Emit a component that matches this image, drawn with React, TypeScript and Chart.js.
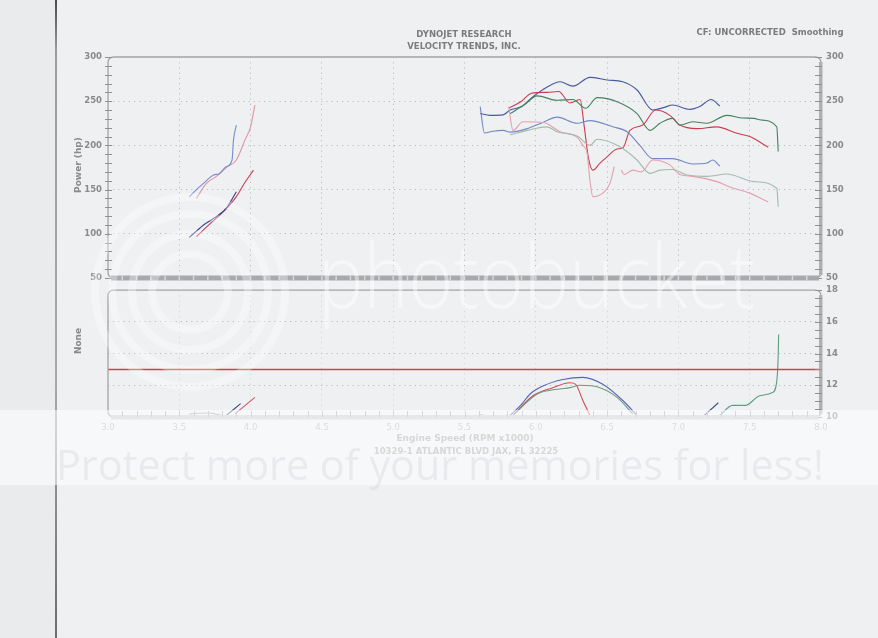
import React, { useEffect, useRef } from "react";
import { Chart, registerables } from "chart.js";
Chart.register(...registerables);

const FONT = '"DejaVu Sans", Verdana, sans-serif';

// ---- axis ticks ----
const rpmTicks = [3.0, 3.5, 4.0, 4.5, 5.0, 5.5, 6.0, 6.5, 7.0, 7.5, 8.0];
const powerTicks = [50, 100, 150, 200, 250, 300];
const afrTicks = [10, 12, 14, 16, 18];

// ---- power curves: [rpm x1000, hp] ----
const pwrRunBlue: [number, number][] = [[5.61, 236], [5.68, 234], [5.77, 234.5], [5.82, 240], [5.9, 244], [5.98, 255], [6.08, 266], [6.17, 272], [6.26, 267], [6.38, 277], [6.5, 274], [6.61, 272], [6.71, 262.7], [6.82, 240], [6.9, 243], [6.96, 245.7], [7.08, 240.8], [7.15, 244], [7.23, 252], [7.29, 244.6]];
const pwrRunRed: [number, number][] = [[5.81, 242], [5.9, 250], [5.97, 259], [6.08, 260], [6.16, 261], [6.24, 248], [6.31, 252], [6.34, 221], [6.37, 185], [6.4, 172], [6.45, 180], [6.5, 187], [6.57, 196], [6.61, 197], [6.66, 217], [6.75, 223], [6.84, 240], [6.94, 234], [7.01, 223], [7.13, 219], [7.27, 221], [7.41, 213.7], [7.5, 210], [7.63, 198]];
const pwrRunGreen: [number, number][] = [[5.82, 236], [5.92, 246], [6.01, 256], [6.15, 251], [6.26, 252], [6.35, 242], [6.43, 254], [6.57, 249.5], [6.71, 236], [6.8, 217], [6.87, 225], [6.96, 230.6], [7.01, 223], [7.1, 226.8], [7.2, 225], [7.34, 234], [7.45, 231], [7.53, 230.6], [7.58, 228.7], [7.69, 221], [7.7, 193]];
const pwrRunLightBlue: [number, number][] = [[5.61, 243.8], [5.64, 214], [5.7, 216], [5.77, 217], [5.82, 215], [5.94, 219], [6.05, 226], [6.15, 232], [6.29, 225], [6.38, 228], [6.54, 221], [6.64, 215.5], [6.73, 200], [6.82, 185], [6.96, 185], [7.1, 179], [7.2, 180], [7.24, 183.5], [7.29, 176.7]];
const pwrRunPinkA: [number, number][] = [[5.81, 243.8], [5.84, 217], [5.91, 226.8], [6.06, 225.6], [6.17, 215.5], [6.29, 209], [6.33, 200], [6.36, 191], [6.38, 160], [6.4, 142], [6.47, 146], [6.52, 157], [6.55, 176]];
const pwrRunPinkB: [number, number][] = [[6.6, 172], [6.62, 167], [6.68, 172], [6.74, 170], [6.82, 183.5], [6.94, 178], [7.01, 167], [7.1, 165], [7.27, 159], [7.36, 153], [7.5, 146], [7.63, 136]];
const pwrRunGreyGreen: [number, number][] = [[5.82, 212], [5.94, 217], [6.08, 221], [6.15, 215.5], [6.29, 210.6], [6.38, 200], [6.43, 207], [6.59, 198.5], [6.71, 183.5], [6.8, 168.4], [6.87, 172], [6.96, 172.8], [7.06, 166.5], [7.2, 165], [7.34, 167.6], [7.53, 159], [7.69, 151.5], [7.7, 130.7]];
const pwrLowBlueUpper: [number, number][] = [[3.57, 142], [3.62, 150], [3.67, 157], [3.74, 166.5], [3.78, 168], [3.83, 176], [3.87, 183.5], [3.88, 206], [3.9, 223]];
const pwrLowPinkUpper: [number, number][] = [[3.62, 140], [3.69, 157], [3.76, 165], [3.83, 175], [3.9, 183.5], [3.96, 206], [4.0, 221], [4.03, 245.7]];
const pwrLowBlueLower: [number, number][] = [[3.57, 96], [3.62, 103], [3.67, 110], [3.76, 119.4], [3.83, 129], [3.9, 147.6]];
const pwrLowRedLower: [number, number][] = [[3.62, 96.8], [3.72, 112], [3.81, 125], [3.9, 142], [3.96, 158], [4.02, 172]];

// ---- air/fuel curves: [rpm x1000, AFR] ----
const afrBlue: [number, number][] = [[5.82, 10.1], [5.9, 10.8], [5.96, 11.45], [6.05, 11.95], [6.19, 12.36], [6.33, 12.5], [6.47, 12.06], [6.61, 11.04], [6.71, 10.1]];
const afrRed: [number, number][] = [[5.84, 10.1], [5.98, 11.34], [6.12, 11.85], [6.24, 12.16], [6.28, 12.06], [6.33, 11.04], [6.38, 10.1]];
const afrGreen: [number, number][] = [[5.84, 10.1], [6.01, 11.45], [6.15, 11.75], [6.24, 11.85], [6.31, 12.0], [6.45, 11.85], [6.57, 11.24], [6.68, 10.2]];
const afrGreyPre: [number, number][] = [[5.6, 10.15], [5.7, 10.05], [5.8, 10.1]];
const afrDarkLate: [number, number][] = [[7.17, 10.0], [7.28, 10.9]];
const afrGreenLate: [number, number][] = [[7.29, 10.1], [7.38, 10.73], [7.47, 10.73], [7.57, 11.34], [7.66, 11.55], [7.69, 12.26], [7.7, 13.9], [7.703, 15.2]];
const afrGreyLow: [number, number][] = [[3.57, 10.2], [3.7, 10.25], [3.8, 10.1]];
const afrDarkLow: [number, number][] = [[3.83, 10.1], [3.93, 10.84]];
const afrRedLow: [number, number][] = [[3.89, 10.2], [4.03, 11.24]];
const afrTarget: [number, number][] = [[3.0, 13.0], [8.0, 13.0]];

const pts = (a: [number, number][]) => a.map(([x, y]) => ({ x, y }));
const ds = (a: [number, number][], color: string, w = 1.1) => ({
  data: pts(a),
  borderColor: color,
  borderWidth: w,
  pointRadius: 0,
  fill: false,
  cubicInterpolationMode: "monotone" as const,
});

function roundRectPath(ctx: CanvasRenderingContext2D, x: number, y: number, w: number, h: number, r: number) {
  ctx.beginPath();
  ctx.moveTo(x + r, y);
  ctx.lineTo(x + w - r, y);
  ctx.quadraticCurveTo(x + w, y, x + w, y + r);
  ctx.lineTo(x + w, y + h - r);
  ctx.quadraticCurveTo(x + w, y + h, x + w - r, y + h);
  ctx.lineTo(x + r, y + h);
  ctx.quadraticCurveTo(x, y + h, x, y + h - r);
  ctx.lineTo(x, y + r);
  ctx.quadraticCurveTo(x, y, x + r, y);
  ctx.closePath();
}

const framePlugin = {
  id: "dynoFrame",
  afterDatasetsDraw(chart: any, _args: any, opts: any) {
    const { ctx, chartArea } = chart;
    const { left, right, top, bottom } = chartArea;
    const xs = chart.scales.x;
    const ys = chart.scales.y;
    ctx.save();
    roundRectPath(ctx, left, top, right - left, bottom - top, 6);
    ctx.strokeStyle = "#a4a4a4";
    ctx.lineWidth = 1.3;
    ctx.stroke();
    // right axis bar
    ctx.fillStyle = "#b0b0b0";
    ctx.fillRect(right - 2, top + 5, 3.5, bottom - top - 8);
    ctx.strokeStyle = "#919191";
    ctx.lineWidth = 1;
    const n = Math.round((ys.max - ys.min) / opts.yMinor);
    for (let i = 0; i <= n; i++) {
      const v = ys.min + i * opts.yMinor;
      const py = Math.round(ys.getPixelForValue(v)) + 0.5;
      ctx.beginPath();
      ctx.moveTo(right - 6, py);
      ctx.lineTo(right + 1, py);
      ctx.stroke();
      if (opts.leftTicks) {
        ctx.beginPath();
        ctx.moveTo(left - 3, py);
        ctx.lineTo(left + 4, py);
        ctx.stroke();
      }
    }
    // bottom bar
    if (opts.kind === "upper") {
      ctx.fillStyle = "#a9a9a9";
      ctx.fillRect(left + 3, bottom - 2.5, right - left - 5, 5);
      ctx.strokeStyle = "#d6d6d6";
      ctx.lineWidth = 1.5;
      for (let i = 1; i < 50; i++) {
        const px = xs.getPixelForValue(3 + i * 0.1);
        ctx.beginPath();
        ctx.moveTo(px, bottom - 2.5);
        ctx.lineTo(px, bottom + 2.5);
        ctx.stroke();
      }
    } else {
      ctx.fillStyle = "#cbcbcb";
      ctx.fillRect(left + 3, bottom - 2, right - left - 5, 4.5);
      ctx.strokeStyle = "#a8a8a8";
      ctx.lineWidth = 1;
      for (let i = 1; i < 50; i++) {
        const px = Math.round(xs.getPixelForValue(3 + i * 0.1)) + 0.5;
        ctx.beginPath();
        ctx.moveTo(px, bottom - 6);
        ctx.lineTo(px, bottom);
        ctx.stroke();
      }
    }
    ctx.restore();
  },
};

const gridColor = (lo: number, hi: number, c: string) => (ctx: any) =>
  ctx.tick && ctx.tick.value > lo + 1e-6 && ctx.tick.value < hi - 1e-6 ? c : "rgba(0,0,0,0)";

const tickFont = { family: FONT, size: 8.5, weight: "bold" as const };
const GRID = "#bdbdbd";
const DOTS = [1.2, 4];

export default function App() {
  const upRef = useRef<HTMLCanvasElement>(null);
  const loRef = useRef<HTMLCanvasElement>(null);

  useEffect(() => {
    const up = new Chart(upRef.current!, {
      type: "line",
      data: {
        datasets: [
          ds(pwrRunGreyGreen, "#a3bbab"),
          ds(pwrRunPinkA, "#e4a0ad"),
          ds(pwrRunPinkB, "#e4a0ad"),
          ds(pwrRunLightBlue, "#7487c6"),
          ds(pwrRunGreen, "#46805c"),
          ds(pwrRunRed, "#cc3c50"),
          ds(pwrRunBlue, "#4a5a9e"),
          ds(pwrLowBlueUpper, "#7390cf"),
          ds(pwrLowPinkUpper, "#df95a2"),
          ds(pwrLowBlueLower, "#34448c"),
          ds(pwrLowRedLower, "#c63f57"),
        ] as any,
      },
      options: {
        responsive: false,
        animation: false,
        layout: { padding: { top: 57, bottom: 22, left: 0, right: 0 } },
        plugins: { legend: { display: false }, tooltip: { enabled: false }, dynoFrame: { kind: "upper", yMinor: 10, leftTicks: true } } as any,
        scales: {
          x: {
            type: "linear",
            min: 3,
            max: 8,
            afterBuildTicks: (s: any) => { s.ticks = rpmTicks.map((v) => ({ value: v })); },
            ticks: { display: false },
            grid: { drawTicks: false, color: gridColor(3, 8, GRID), lineWidth: 1 },
            border: { display: false, dash: DOTS },
            afterFit: (s: any) => { s.height = 0; },
          },
          y: {
            position: "left",
            min: 50,
            max: 300,
            afterBuildTicks: (s: any) => { s.ticks = powerTicks.map((v) => ({ value: v })); },
            ticks: { color: "#8a8a8a", font: tickFont, padding: 6 },
            grid: { drawTicks: false, color: gridColor(50, 300, GRID) },
            border: { display: false, dash: DOTS },
            afterFit: (s: any) => { s.width = 108; },
          },
          y2: {
            position: "right",
            min: 50,
            max: 300,
            afterBuildTicks: (s: any) => { s.ticks = powerTicks.map((v) => ({ value: v })); },
            ticks: { color: "#8a8a8a", font: tickFont, padding: 5 },
            grid: { display: false, drawTicks: false },
            border: { display: false },
            afterFit: (s: any) => { s.width = 57; },
          },
        },
      },
      plugins: [framePlugin as any],
    });

    const lo = new Chart(loRef.current!, {
      type: "line",
      data: {
        datasets: [
          ds(afrTarget, "#da3c4c", 1.5),
          ds(afrGreen, "#6f9a7c"),
          ds(afrRed, "#d04a5a"),
          ds(afrBlue, "#5566b5"),
          ds(afrGreyPre, "#9aa0a8"),
          ds(afrDarkLate, "#3f4f8a"),
          ds(afrGreenLate, "#5f9f80"),
          ds(afrGreyLow, "#a0a0a8"),
          ds(afrDarkLow, "#404a80"),
          ds(afrRedLow, "#d05868"),
        ] as any,
      },
      options: {
        responsive: false,
        animation: false,
        layout: { padding: { top: 6, bottom: 0, left: 0, right: 0 } },
        plugins: { legend: { display: false }, tooltip: { enabled: false }, dynoFrame: { kind: "lower", yMinor: 0.5, leftTicks: false } } as any,
        scales: {
          x: {
            type: "linear",
            min: 3,
            max: 8,
            afterBuildTicks: (s: any) => { s.ticks = rpmTicks.map((v) => ({ value: v })); },
            ticks: { color: "#b0b0b0", font: { family: FONT, size: 8.5 }, padding: 6, maxRotation: 0, autoSkip: false, callback: (v: any) => Number(v).toFixed(1) },
            grid: { drawTicks: false, color: gridColor(3, 8, "#d4d4d4") },
            border: { display: false, dash: DOTS },
            afterFit: (s: any) => { s.height = 63; },
          },
          y: {
            position: "left",
            min: 10,
            max: 18,
            afterBuildTicks: (s: any) => { s.ticks = afrTicks.map((v) => ({ value: v })); },
            ticks: { display: false },
            grid: { drawTicks: false, color: gridColor(10, 18, GRID) },
            border: { display: false, dash: DOTS },
            afterFit: (s: any) => { s.width = 108; },
          },
          y2: {
            position: "right",
            min: 10,
            max: 18,
            afterBuildTicks: (s: any) => { s.ticks = afrTicks.map((v) => ({ value: v })); },
            ticks: { color: "#8a8a8a", font: tickFont, padding: 5 },
            grid: { display: false, drawTicks: false },
            border: { display: false },
            afterFit: (s: any) => { s.width = 57; },
          },
        },
      },
      plugins: [framePlugin as any],
    });

    return () => {
      up.destroy();
      lo.destroy();
    };
  }, []);

  const txt = (x: number, y: number, s: string, extra: React.CSSProperties = {}) => (
    <div
      style={{
        position: "absolute",
        left: x,
        top: y,
        transform: "translate(-50%, -50%)",
        whiteSpace: "nowrap",
        font: `bold 8.5px ${FONT}`,
        color: "#7c7c7c",
        lineHeight: 1,
        ...extra,
      }}
    >
      {s}
    </div>
  );

  return (
    <div
      style={{
        position: "fixed",
        left: 0,
        top: 0,
        width: 878,
        height: 638,
        overflow: "hidden",
        background: "#eef0f2",
      }}
    >
      <div style={{ position: "absolute", left: 0, top: 0, width: 55, height: 638, background: "#e9ebed" }} />
      <div style={{ position: "absolute", left: 55, top: 0, width: 1.5, height: 638, background: "linear-gradient(#4a4a4a, #9a9c9e 8%, #a6a8aa 60%, #6a6c6e)" }} />
      <canvas ref={upRef} width={878} height={300} style={{ position: "absolute", left: 0, top: 0, display: "block" }} />
      <canvas ref={loRef} width={878} height={200} style={{ position: "absolute", left: 0, top: 280, display: "block" }} />
      {txt(464, 34, "DYNOJET RESEARCH")}
      {txt(464, 46, "VELOCITY TRENDS, INC.")}
      {txt(770, 32, "CF: UNCORRECTED  Smoothing", { whiteSpace: "pre" })}
      {txt(78, 165, "Power (hp)", { transform: "translate(-50%, -50%) rotate(-90deg)", color: "#8a8a8a", fontSize: 9 })}
      {txt(78, 341, "None", { transform: "translate(-50%, -50%) rotate(-90deg)", color: "#8a8a8a", fontSize: 9 })}
      {txt(465, 438, "Engine Speed (RPM x1000)", { color: "#a6a6a6", fontSize: 9 })}
      {txt(466, 451, "10329-1 ATLANTIC BLVD JAX, FL 32225", { color: "#a6a6a6" })}
      <svg width={878} height={638} style={{ position: "absolute", left: 0, top: 0, pointerEvents: "none" }}>
        <g fill="none" stroke="rgba(255,255,255,0.32)" strokeWidth={8}>
          <circle cx={190} cy={292} r={38} />
          <circle cx={190} cy={292} r={58} />
          <circle cx={190} cy={292} r={78} />
          <circle cx={190} cy={292} r={95} />
        </g>
        <text x={318} y={308} fontSize={88} fontFamily="Open Sans" fontWeight={300} fill="rgba(255,255,255,0.45)" textLength={437} lengthAdjust="spacingAndGlyphs">
          photobucket
        </text>
        <rect x={0} y={410} width={878} height={75} fill="rgba(255,255,255,0.55)" />
        <text x={56} y={480} fontSize={42} fontFamily="Open Sans" fill="rgba(210,213,217,0.4)" textLength={768} lengthAdjust="spacingAndGlyphs">
          Protect more of your memories for less!
        </text>
      </svg>
    </div>
  );
}
